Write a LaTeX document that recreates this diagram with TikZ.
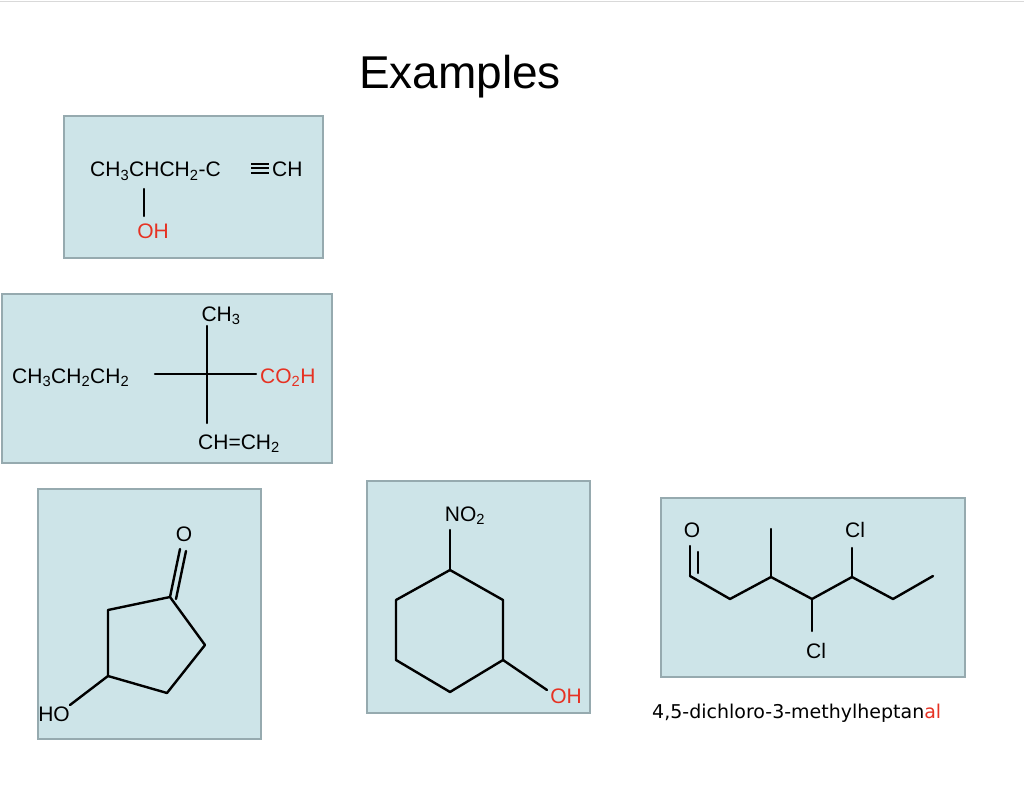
\documentclass[tikz,border=0pt]{standalone}
\usepackage{fontspec}
\setmainfont{Liberation Sans}
\newfontfamily\namefont{DejaVu Sans}
\definecolor{boxfill}{RGB}{205,228,232}
\definecolor{boxline}{RGB}{150,170,175}
\definecolor{redtxt}{RGB}{230,50,35}
\begin{document}
\begin{tikzpicture}[x=1pt,y=-1pt,
  panel/.style={fill=boxfill,draw=boxline,line width=2pt},
  bond/.style={line width=2.4pt,line cap=round,line join=round},
  chem/.style={inner sep=0pt,font=\fontsize{21}{24}\selectfont},
  red/.style={text=redtxt}]
\useasboundingbox (0,0) rectangle (1024,794);
\draw[gray!30] (0,1) -- (1024,1);
\node[font=\fontsize{46}{50}\selectfont] (title) at (460,77) {Examples};
% boxes
\draw[panel] (64,116) rectangle (323,258);
\draw[panel] (2,294) rectangle (332,463);
\draw[panel] (38,489) rectangle (261,739);
\draw[panel] (367,481) rectangle (590,713);
\draw[panel] (661,498) rectangle (965,677);
% box 1
\node[chem,anchor=base west] (f1) at (90,177) {CH\textsubscript{3}CHCH\textsubscript{2}-C};
\node[chem,anchor=base west] (f1b) at (272,177) {CH};
\coordinate (t1) at (252,164); \coordinate (t2) at (268,164);
\draw[line width=2pt] (251,164) -- (269,164) (251,168.5) -- (269,168.5) (251,173) -- (269,173);
\node[chem,red] (oh1) at (153,231) {OH};
\coordinate (b1) at (144,189);
\draw[bond] (b1) -- (144,216);
% box 2
\node[chem] (me2) at (221,316) {CH\textsubscript{3}};
\node[chem,anchor=base west] (pr2) at (12,383) {CH\textsubscript{3}CH\textsubscript{2}CH\textsubscript{2}};
\node[chem,red,anchor=base west] (co2) at (260,383) {CO\textsubscript{2}H};
\node[chem,anchor=base west] (vi2) at (198,449) {CH=CH\textsubscript{2}};
\coordinate (c2) at (207,374);
\draw[bond] (207,326) -- (207,423);
\draw[bond] (155,374) -- (256,374);
% box 3
\coordinate (r1) at (170,597); \coordinate (r2) at (205,645); \coordinate (r3) at (167,693);
\coordinate (r4) at (108,676); \coordinate (r5) at (108,610);
\draw[bond] (r1) -- (r2) -- (r3) -- (r4) -- (r5) -- cycle;
\node[chem] (o3) at (184,534) {O};
\draw[bond] (r1) -- (180,549);
\draw[bond] (176,599) -- (186,551);
\node[chem] (ho3) at (54,714) {HO};
\draw[bond] (r4) -- (70,705);
% box 4
\coordinate (h1) at (450,570); \coordinate (h2) at (503,600); \coordinate (h3) at (503,660);
\coordinate (h4) at (450,692); \coordinate (h5) at (396,660); \coordinate (h6) at (396,600);
\draw[bond] (h1) -- (h2) -- (h3) -- (h4) -- (h5) -- (h6) -- cycle;
\node[chem] (no4) at (465,516) {NO\textsubscript{2}};
\draw[bond] (h1) -- (450,530);
\node[chem,red] (oh4) at (566,696) {OH};
\draw[bond] (h3) -- (547,690);
% box 5
\node[chem] (o5) at (692,530) {O};
\draw[bond] (690,576) -- (690,546);
\draw[bond] (698,573) -- (698,552);
\draw[bond] (690,576) -- (730,599) -- (771,577) -- (812,599) -- (852,577) -- (893,599) -- (933,576);
\draw[bond] (771,577) -- (771,529);
\draw[bond] (812,599) -- (812,631);
\draw[bond] (852,577) -- (852,548);
\node[chem] (cl5a) at (855,530) {Cl};
\node[chem] (cl5b) at (816,651) {Cl};
\node[font=\namefont\fontsize{19}{22}\selectfont,anchor=base west,inner sep=0pt] (name5) at (652,718) {4,5-dichloro-3-methylheptan\textcolor{redtxt}{al}};
\end{tikzpicture}
\end{document}
